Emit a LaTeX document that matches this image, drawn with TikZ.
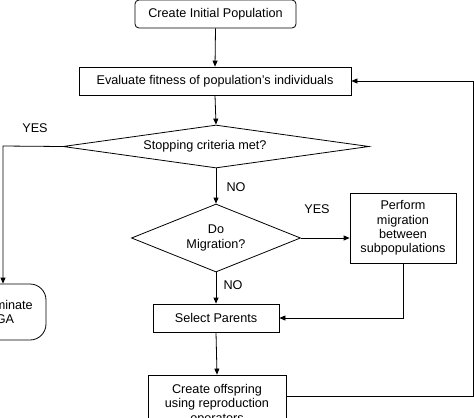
\documentclass[tikz,border=0pt]{standalone}
\usepackage{fontspec}
\setmainfont{Liberation Sans}
\usetikzlibrary{shapes.geometric,arrows.meta}
\begin{document}
\begin{tikzpicture}[x=1bp,y=-1bp,
  every node/.style={font=\fontsize{12.7}{14.5}\selectfont, inner sep=0pt, align=center},
  box/.style={draw, line width=0.8bp, rectangle},
  dia/.style={draw, line width=0.8bp, diamond},
  lbl/.style={},
  conn/.style={line width=0.8bp},
  arr/.style={line width=0.8bp, -{Triangle[length=6bp,width=5bp]}}]
\useasboundingbox (0,0) rectangle (474,417);
\begin{scope}
\clip (0,0) rectangle (474,417);
\node[box, rounded corners=4bp, minimum width=161bp, minimum height=28bp] (create) at (215.5,14) {Create Initial Population};
\node[box, minimum width=272bp, minimum height=28bp] (eval) at (215,81) {Evaluate fitness of population’s individuals};
\node[dia, aspect=7.1, minimum width=306bp, minimum height=43bp] (d1) at (216,146.5) {\hspace*{-22bp}Stopping criteria met?};
\node[dia, aspect=2.49, minimum width=169bp, minimum height=68bp] (d2) at (216,238) {Do\\Migration?};
\node[box, minimum width=106bp, minimum height=70bp] (perf) at (403,228) {Perform\\migration\\between\\subpopulations};
\node[box, minimum width=126bp, minimum height=28bp] (sel) at (216,318) {Select Parents};
\node[box, minimum width=138bp, minimum height=56bp, text depth=0pt] (off) at (217,403) {Create offspring\\using reproduction\\operators};
\node[box, rounded corners=16bp, minimum width=82bp, minimum height=56bp] (term) at (5,312) {Terminate\\GA};

\node[lbl] (yes1) at (35,128) {YES};
\node[lbl] (no1) at (236,187) {NO};
\node[lbl] (yes2) at (317,209) {YES};
\node[lbl] (no2) at (233,285) {NO};

\coordinate (yesL) at (3,146);
\coordinate (R1) at (473,396);
\coordinate (R2) at (473,81);

\draw[arr] (create.south) -- (eval.north);
\draw[arr] (eval.south) -- (d1.north);
\draw[arr] (d1.west) -- (yesL) -- (yesL |- term.north);
\draw[arr] (d1.south) -- (d2.north);
\draw[arr] (d2.east) -- (d2.east -| perf.west);
\draw[arr] (perf.south) -- (perf.south |- sel.east) -- (sel.east);
\draw[arr] (d2.south) -- (sel.north);
\draw[arr] (sel.south) -- (off.north);
\draw[arr] (R1 -| off.east) -- (R1) -- (R2) -- (eval.east);
\end{scope}
\end{tikzpicture}
\end{document}
